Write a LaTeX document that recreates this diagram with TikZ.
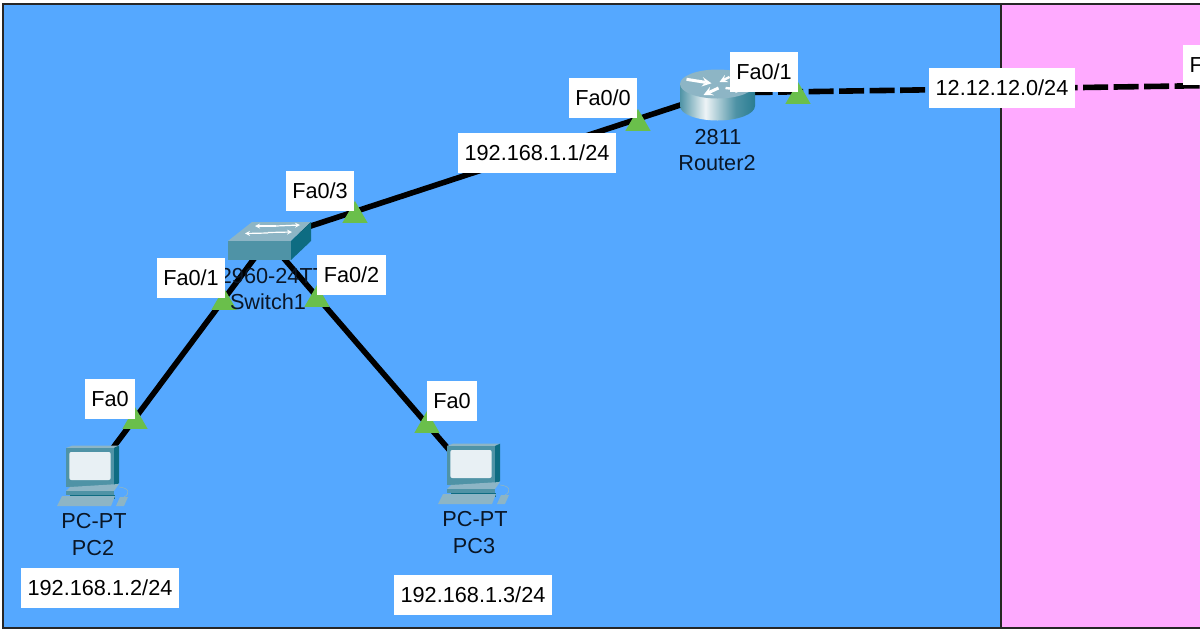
\documentclass[tikz,border=0pt]{standalone}
\usepackage{fontspec}
\setmainfont{Liberation Sans}
\usetikzlibrary{shapes.geometric}
\definecolor{areablue}{HTML}{55A8FF}
\definecolor{areapink}{HTML}{FFAAFF}
\definecolor{portgreen}{HTML}{6ABF4B}
\definecolor{iconlight}{HTML}{8DB5C5}
\definecolor{iconmid}{HTML}{4F93A6}
\definecolor{icondark}{HTML}{0E6C82}
\definecolor{inktext}{HTML}{0A1626}
\pgfdeclarehorizontalshading{routerbody}{100bp}{color(0bp)=(iconmid); color(25bp)=(iconmid); color(42bp)=(white!85!iconlight); color(62bp)=(iconmid); color(85bp)=(icondark); color(100bp)=(icondark)}
\tikzset{
  hostspot/.style={inner sep=0pt,minimum size=0pt},
  wire/.style={line width=5.6pt,black},
  dashwire/.style={line width=5.6pt,black,dash pattern=on 25pt off 5.5pt},
  porttri/.style={regular polygon,regular polygon sides=3,minimum size=29pt,inner sep=0pt,fill=portgreen},
  tag/.style={fill=white,text=black,inner xsep=6.5pt,inner ysep=0pt,minimum height=40pt,font=\fontsize{21.7}{25}\selectfont},
  devtext/.style={text=inktext,inner sep=0pt,font=\fontsize{21.7}{25}\selectfont},
  pcicon/.pic={
    \fill[iconlight] (-26,-28) -- (-20,-30.3) -- (27,-30.3) -- (22,-28) -- cycle;
    \fill[icondark] (22,-28) -- (27,-30.3) -- (27,7) -- (22,11) -- cycle;
    \fill[iconmid] (-26,-28) rectangle (22,11);
    \fill[white!80!iconlight,rounded corners=2pt] (-22.7,-24) rectangle (18.7,4);
    \fill[iconlight] (-26,15) -- (-22,11) -- (27,8) -- (22,15) -- cycle;
    \fill[iconmid] (-26,15) rectangle (22,19);
    \fill[icondark] (-22,19) rectangle (23,23);
    \fill[iconlight] (-35,30) -- (-30,20) -- (23,20) -- (19,30) -- cycle;
    \fill[iconlight] (24,30) -- (28,21) -- (36,21) -- (32,30) -- cycle;
    \draw[iconlight,line width=0.6pt] (27,11) .. controls (38,12) and (38,18) .. (32,21);
  },
  switchicon/.pic={
    \fill[iconlight] (-40,1) -- (-16,-18) -- (43,-18) -- (23,1) -- cycle;
    \fill[icondark] (23,1) -- (43,-18) -- (43,1) -- (23,20) -- cycle;
    \fill[iconmid] (-40,1) rectangle (23,20);
    \draw[white,line width=1.2pt,-stealth] (8,-14) -- (-13,-14);
    \draw[white,line width=1.2pt,-stealth] (8,-14) -- (32,-15);
    \draw[white,line width=1.2pt,-stealth] (0,-7) -- (-23,-6.5);
    \draw[white,line width=1.2pt,-stealth] (0,-7.5) -- (24,-8);
  },
  routericon/.pic={
    \shade[shading=routerbody] (-37.5,-5) -- (-37.5,17) arc[start angle=180,end angle=0,x radius=37.5,y radius=14.5] -- (37.5,-5) -- cycle;
    \fill[iconlight] (0,-5) ellipse[x radius=37.5,y radius=14.5];
    \draw[white,line width=3pt,-stealth] (-31,-9.7) -- (-6,-5.7);
    \draw[white,line width=3pt,-stealth] (1,-1) -- (-14,6);
    \draw[white,line width=2.4pt,-stealth] (12,-12) -- (2,-7);
    \draw[white,line width=2.4pt,-stealth] (8,-1) -- (26,1);
  }
}
\begin{document}
\begin{tikzpicture}[x=1pt,y=-1pt]
  \useasboundingbox (0,0) rectangle (1200,630);
  \clip (0,0) rectangle (1200,630);
  \fill[white] (0,0) rectangle (1200,630);
  \fill[areablue] (3,4) rectangle (1001,628);
  \fill[areapink] (1001,4) rectangle (1200,628);
  \draw[line width=1.6pt,black!85] (1200,4) -- (3,4) -- (3,628) -- (1200,628);
  \draw[line width=1.4pt,black!85] (1001,4) -- (1001,628);
  \node[hostspot] (switch1) at (268,240) {};
  \node[hostspot] (router2) at (717,93) {};
  \node[hostspot] (pc2) at (92,476) {};
  \node[hostspot] (pc3) at (470,474) {};
  \coordinate (farend) at (1200,85.7);
  \draw[wire] (switch1) -- (router2);
  \draw[wire] (switch1) -- (pc2);
  \draw[wire] (switch1) -- (pc3);
  \draw[dashwire] (router2) -- (farend);
  \node[porttri] (triA) at (355,215.5) {};
  \node[porttri] (triB) at (317,299.5) {};
  \node[porttri] (triC) at (224,302.5) {};
  \node[porttri] (triD) at (638,123.5) {};
  \node[porttri] (triE) at (798,96.5) {};
  \node[porttri] (triF) at (135,421.5) {};
  \node[porttri] (triG) at (427,425.5) {};
  \pic at (268,240) {switchicon};
  \pic at (717.5,89) {routericon};
  \pic at (92,476) {pcicon};
  \pic at (473,474) {pcicon};
  \node[devtext] (swmodel) at (273,276) {2960-24TT};
  \node[devtext] (swname) at (268,302) {Switch1};
  \node[devtext] (rtmodel) at (718,137) {2811};
  \node[devtext] (rtname) at (717,163) {Router2};
  \node[devtext] (pc2model) at (94,521) {PC-PT};
  \node[devtext] (pc2name) at (93,548) {PC2};
  \node[devtext] (pc3model) at (475,519) {PC-PT};
  \node[devtext] (pc3name) at (474,546) {PC3};
  \node[tag] (tagA) at (320,191) {Fa0/3};
  \node[tag] (tagB) at (351.5,275) {Fa0/2};
  \node[tag] (tagC) at (191,278) {Fa0/1};
  \node[tag] (tagD) at (603,98) {Fa0/0};
  \node[tag] (tagE) at (764,72) {Fa0/1};
  \node[tag] (tagF) at (110,399) {Fa0};
  \node[tag] (tagG) at (452,401) {Fa0};
  \node[tag] (tagH) at (537,153) {192.168.1.1/24};
  \node[tag] (tagI) at (1002,87.5) {12.12.12.0/24};
  \node[tag] (tagJ) at (100,588) {192.168.1.2/24};
  \node[tag] (tagK) at (473,595) {192.168.1.3/24};
  \node[tag,anchor=west] (tagL) at (1183,65) {F};
\end{tikzpicture}
\end{document}
